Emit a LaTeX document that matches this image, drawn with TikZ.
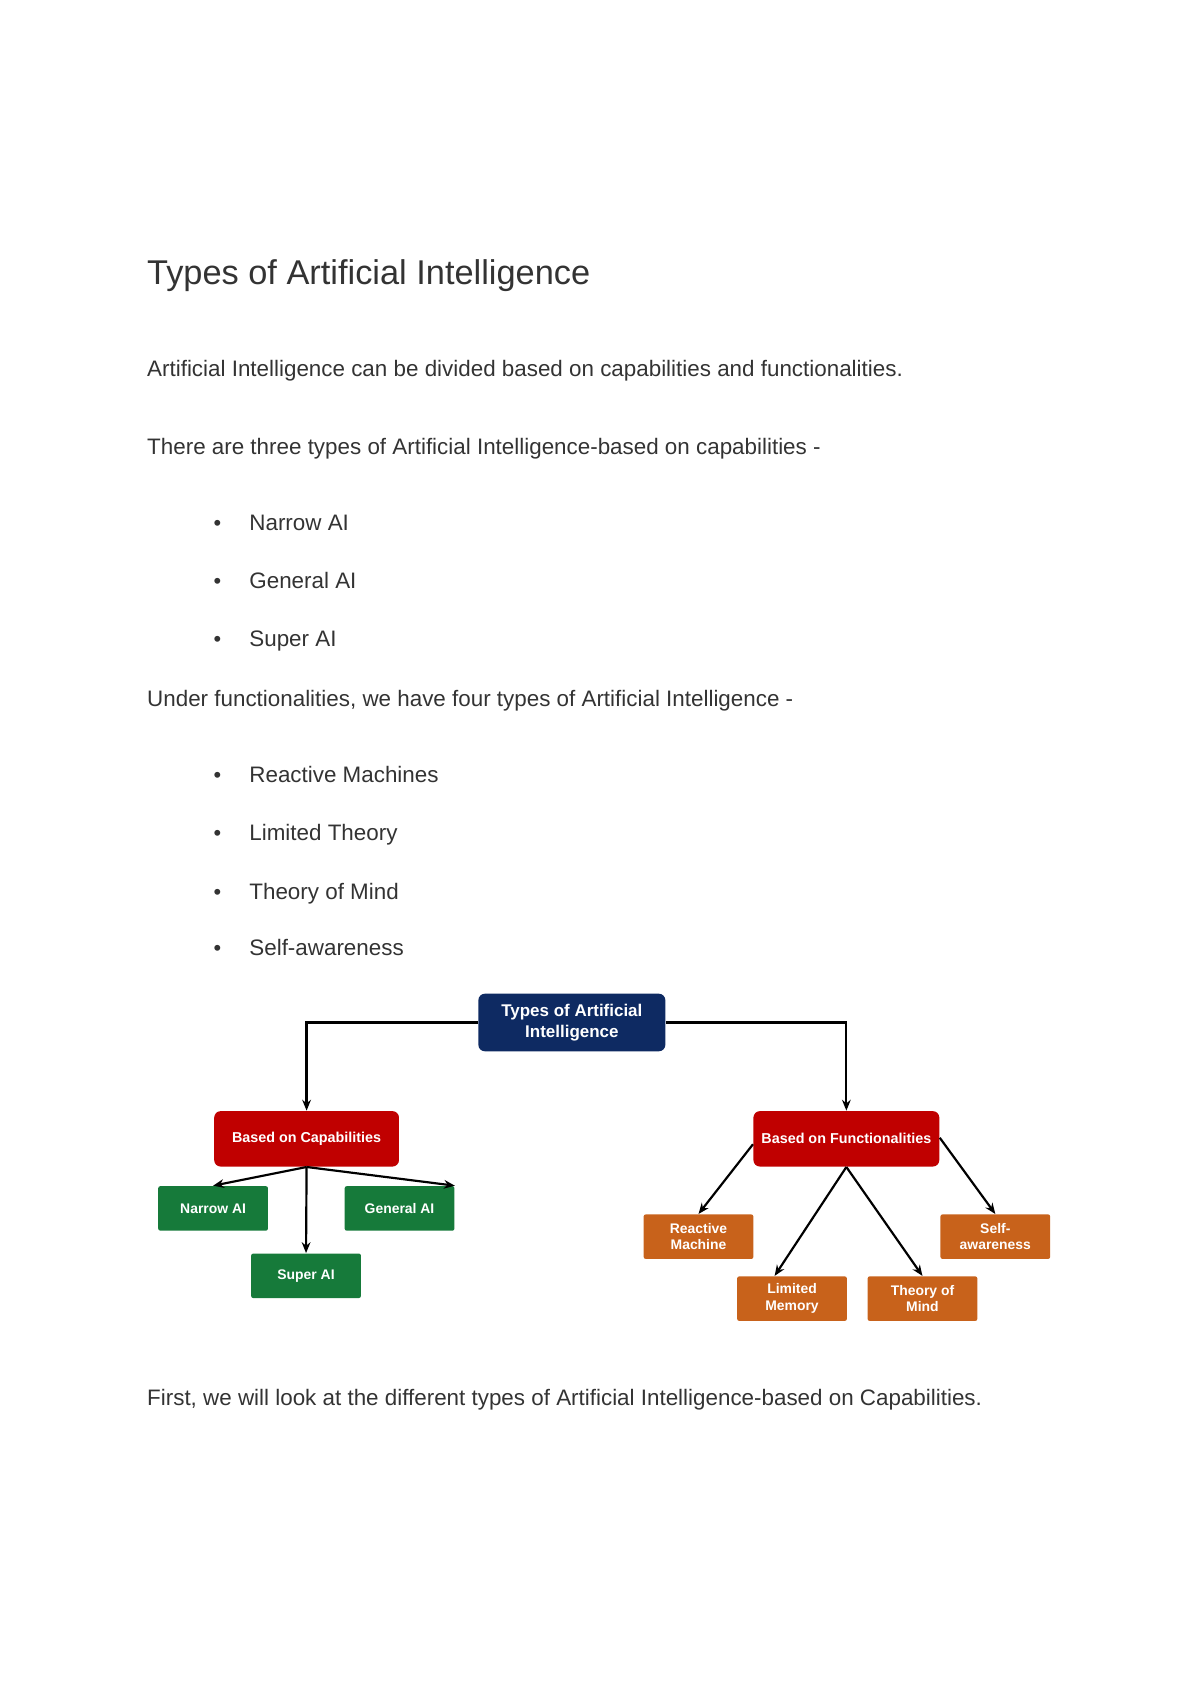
\documentclass[tikz,border=0pt]{standalone}
\usepackage{fontspec}
\setmainfont{Liberation Sans}
\usetikzlibrary{arrows.meta}
\definecolor{txt}{HTML}{333333}
\definecolor{navy}{HTML}{0E2A62}
\definecolor{rd}{HTML}{C00000}
\definecolor{gr}{HTML}{167A3A}
\definecolor{org}{HTML}{C8621B}
\begin{document}
\begin{tikzpicture}[x=0.5pt,y=-0.5pt,
  body/.style={anchor=base west,inner sep=0pt,text=txt,font=\fontsize{10.3pt}{12pt}\selectfont},
  bul/.style={anchor=base,inner sep=0pt,text=txt,font=\fontsize{10pt}{12pt}\selectfont},
  box/.style={draw=none,rounded corners=3pt,text=white,align=center,inner sep=0pt,
     font=\bfseries\fontsize{6.6pt}{8pt}\selectfont},
  leaf/.style={draw=none,rounded corners=1pt,text=white,align=center,inner sep=0pt,
     font=\bfseries\fontsize{6.4pt}{7.6pt}\selectfont,minimum width=50.5pt,minimum height=20.5pt},
  arr/.style={-{Stealth[length=5pt,width=4pt]},line width=1pt,black}]
\useasboundingbox (0,0) rectangle (1104,1560);
\node[body,font=\fontsize{15.8pt}{18pt}\selectfont] (t) at (135,262) {Types of Artificial Intelligence};
\node[body] (p1) at (135,346) {Artificial Intelligence can be divided based on capabilities and functionalities.};
\node[body] (p2) at (135,418) {There are three types of Artificial Intelligence-based on capabilities -};
\foreach \y/\s [count=\i] in {488/Narrow AI,541/General AI,595/Super AI}{
  \node[bul] (b\i) at (200,\y) {•};
  \node[body] (l\i) at (229,\y) {\s};}
\node[body] (p3) at (135,650) {Under functionalities, we have four types of Artificial Intelligence -};
\foreach \y/\s [count=\i] in {720/Reactive Machines,773/Limited Theory,827/Theory of Mind,879/Self-awareness}{
  \node[bul] (c\i) at (200,\y) {•};
  \node[body] (m\i) at (229,\y) {\s};}
\node[body] (p4) at (135,1293) {First, we will look at the different types of Artificial Intelligence-based on Capabilities.};

\node[box,fill=navy,minimum width=86pt,minimum height=26.5pt,font=\bfseries\fontsize{7.8pt}{9.6pt}\selectfont] (top) at (526,940.5) {Types of Artificial\\Intelligence};
\node[box,fill=rd,minimum width=85pt,minimum height=25.5pt] (cap) at (282,1047.5) {Based on Capabilities};
\node[box,fill=rd,minimum width=85.5pt,minimum height=25.5pt] (fun) at (778.5,1047.5) {Based on Functionalities};
\node[leaf,fill=gr] (na) at (196,1111.5) {Narrow AI};
\node[leaf,fill=gr] (ga) at (367.5,1111.5) {General AI};
\node[leaf,fill=gr] (sa) at (281.5,1173.5) {Super AI};
\node[leaf,fill=org] (rm) at (642.5,1137.5) {Reactive\\Machine};
\node[leaf,fill=org] (sw) at (915.5,1137.5) {Self-\\awareness};
\node[leaf,fill=org] (lm) at (728.5,1194.5) {Limited\\Memory};
\node[leaf,fill=org] (tm) at (848.5,1194.5) {Theory of\\Mind};

\draw[arr] (top.west) -| (cap.north);
\draw[arr] (top.east) -| (fun.north);
\draw[arr] (cap.south) -- (na.north);
\draw[arr] (cap.south) -- (ga.north east);
\draw[arr] (cap.south) -- (sa.north);
\draw[arr] ([yshift=-2.5pt]fun.west) -- (rm.north);
\draw[arr] (fun.south) -- ([xshift=-8pt]lm.north);
\draw[arr] (fun.south) -- (tm.north);
\draw[arr] ([yshift=0.5pt]fun.east) -- (sw.north);
\end{tikzpicture}
\end{document}
